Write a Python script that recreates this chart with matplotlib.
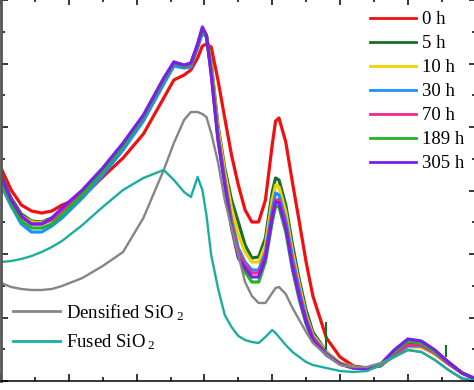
import matplotlib
matplotlib.use("Agg")
import matplotlib.pyplot as plt
from matplotlib.ticker import MultipleLocator

plt.rcParams['mathtext.fontset'] = 'custom'
plt.rcParams['mathtext.rm'] = 'Liberation Serif'
plt.rcParams['mathtext.it'] = 'Liberation Serif:italic'

# Raman shift (cm^-1)
shift = [200, 215, 230, 245, 260, 275, 290, 320, 350, 380, 410, 440, 455, 470, 480, 490, 497, 503,
         510, 520, 530, 540, 550, 560, 570, 580, 590, 600, 605, 610, 620, 630, 640, 650, 660, 680,
         700, 720, 740, 760, 780, 800, 820, 840, 860, 880, 900]

# Intensity (a.u.)
h0 = [213, 191, 176, 170, 168, 170, 176, 184, 204, 223, 247, 283, 301, 306, 311, 323, 335, 337,
      334, 301, 263, 226, 196, 171, 159, 159, 181, 236, 260, 263, 239, 198, 159, 119, 85, 43,
      24, 15, 13, 15, 26, 36, 34, 27, 17, 8, 2]
h5 = [206, 183, 167, 160, 159, 163, 171, 189, 211, 236, 264, 301, 318, 315, 317, 336, 351, 345,
      319, 256, 213, 181, 159, 136, 123, 124, 143, 189, 203, 201, 176, 136, 101, 71, 49, 29,
      18, 14, 12, 16, 27, 37, 36, 28, 18, 8, 2]
h10 = [203, 181, 165, 159, 158, 162, 171, 189, 211, 236, 264, 301, 318, 315, 317, 335, 350, 345,
       316, 253, 209, 173, 146, 129, 119, 119, 136, 181, 196, 194, 169, 129, 96, 66, 46, 29,
       18, 14, 12, 16, 25, 34, 34, 27, 18, 8, 2]
h30 = [196, 175, 157, 149, 149, 155, 163, 183, 206, 231, 260, 297, 315, 313, 314, 333, 348, 344,
       311, 246, 201, 161, 133, 119, 111, 111, 129, 171, 188, 186, 161, 123, 91, 63, 44, 28,
       17, 13, 12, 16, 26, 35, 35, 28, 18, 8, 2]
h70 = [203, 181, 164, 157, 157, 161, 170, 188, 211, 236, 264, 301, 318, 315, 316, 335, 350, 345,
       311, 246, 201, 159, 129, 116, 108, 108, 125, 166, 181, 181, 156, 118, 87, 61, 43, 27,
       17, 13, 12, 16, 27, 36, 36, 28, 18, 8, 2]
h189 = [199, 177, 160, 153, 153, 157, 166, 186, 210, 235, 264, 301, 319, 315, 317, 336, 351, 345,
        309, 243, 198, 156, 125, 109, 99, 99, 119, 159, 175, 174, 149, 111, 81, 57, 40, 26,
        17, 13, 12, 16, 29, 40, 38, 29, 19, 8, 2]
h305 = [205, 181, 165, 157, 157, 163, 173, 191, 213, 238, 266, 303, 319, 316, 318, 337, 354, 346,
        306, 241, 196, 153, 123, 113, 104, 104, 123, 163, 179, 178, 153, 114, 84, 59, 41, 26,
        17, 13, 12, 17, 31, 42, 40, 31, 19, 8, 2]
densified = [98, 94, 92, 91, 91, 92, 95, 103, 115, 129, 163, 211, 238, 261, 269, 269, 267, 264,
             248, 219, 181, 153, 126, 99, 85, 78, 78, 88, 93, 94, 87, 73, 61, 49, 38, 26,
             16, 14, 14, 18, 24, 31, 29, 21, 11, 2, 0]
fused = [119, 120, 122, 125, 129, 134, 140, 156, 174, 191, 203, 211, 201, 189, 184, 204, 191, 166,
         126, 93, 66, 54, 45, 41, 39, 38, 44, 51, 48, 44, 36, 29, 24, 19, 16, 13,
         10, 9, 10, 16, 24, 31, 29, 21, 11, 3, 0]

# narrow spikes in the 5 h spectrum
spike_x = [680, 857]
spike_lo = [31, 24]
spike_hi = [59, 36]

aged_labels = ['0 h', '5 h', '10 h', '30 h', '70 h', '189 h', '305 h']
aged_series = [h0, h5, h10, h30, h70, h189, h305]
aged_colors = ['#F01010', '#17702A', '#F2D000', '#1E8FFF', '#F0288C', '#22B522', '#7A1FE8']

fig = plt.figure(figsize=(4.74, 3.90), dpi=100)
ax = fig.add_axes([1 / 474, 9 / 390, 474.6 / 474, 383 / 390])

aged_handles = []
for lab, ys, c in zip(aged_labels, aged_series, aged_colors):
    ln, = ax.plot(shift, ys, color=c, lw=2.3, label=lab, solid_joinstyle='round')
    aged_handles.append(ln)
ax.vlines(spike_x, spike_lo, spike_hi, color=aged_colors[1], lw=1.5)

g, = ax.plot(shift, densified, color='#858585', lw=1.7, label='Densified SiO$_{\\ 2}$')
t, = ax.plot(shift, fused, color='#1BAE9E', lw=1.7, label='Fused SiO$_{\\ 2}$')

ax.set_xlim(200, 900)
ax.set_ylim(0, 383)
ax.xaxis.set_major_locator(MultipleLocator(100))
ax.xaxis.set_minor_locator(MultipleLocator(50))
ax.yaxis.set_major_locator(MultipleLocator(63.5))
ax.yaxis.set_minor_locator(MultipleLocator(31.75))
ax.tick_params(which='both', direction='in', top=True, right=True,
               labelbottom=False, labelleft=False, width=1.1, color='black')
ax.tick_params(which='major', length=4.8)
ax.tick_params(which='minor', length=2.8)
for s in ['bottom', 'top', 'right']:
    ax.spines[s].set_linewidth(1.1)
ax.spines['left'].set_linewidth(2.0)
ax.spines['left'].set_color('#555555')

leg1 = ax.legend(handles=aged_handles, loc='upper left',
                 bbox_to_anchor=(370 / 474, 1 - 11 / 390), bbox_transform=fig.transFigure,
                 frameon=False, borderpad=0, borderaxespad=0, handlelength=2.45,
                 handletextpad=0.3, labelspacing=0.37,
                 prop={'family': 'Liberation Serif', 'size': 13.5})
for ln in leg1.get_lines():
    ln.set_linewidth(2.0)
ax.add_artist(leg1)

leg2 = ax.legend(handles=[g, t], loc='upper left',
                 bbox_to_anchor=(13 / 474, 1 - 302 / 390), bbox_transform=fig.transFigure,
                 frameon=False, borderpad=0, borderaxespad=0, handlelength=2.5,
                 handletextpad=0.35, labelspacing=0.5,
                 prop={'family': 'Liberation Serif', 'size': 13.5})
for ln in leg2.get_lines():
    ln.set_linewidth(2.0)

fig.savefig('out.png', dpi=100)
